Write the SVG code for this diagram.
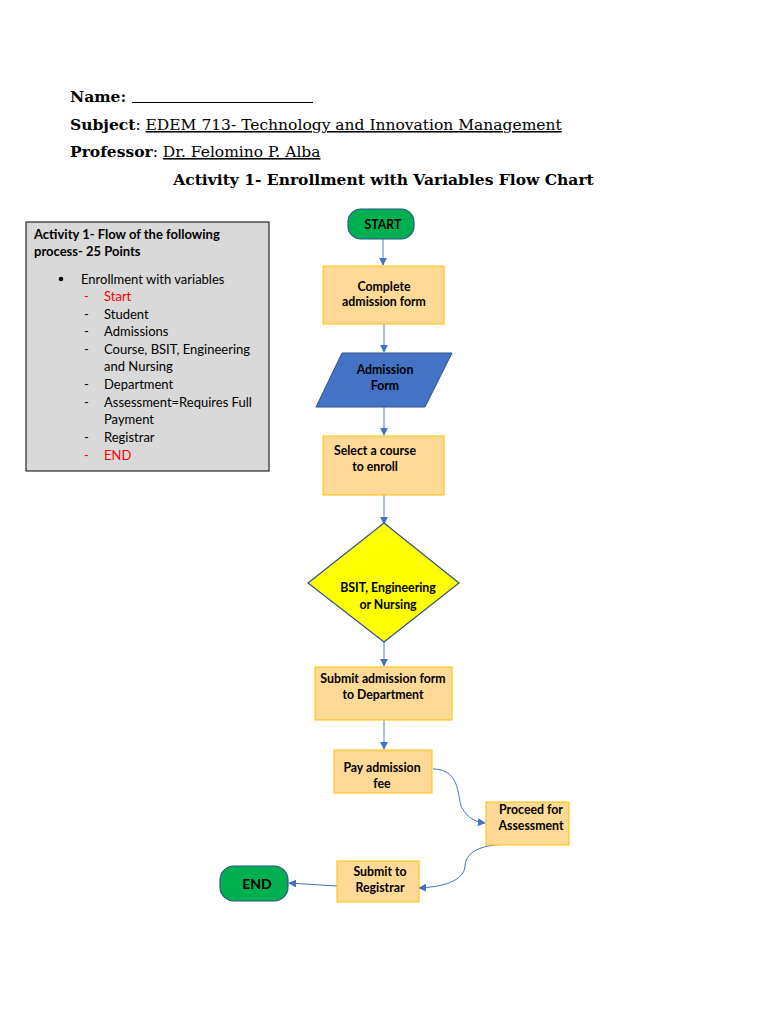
<svg xmlns="http://www.w3.org/2000/svg" width="768" height="1024" viewBox="0 0 768 1024">
<defs>
<style>
.hd{font-family:"DejaVu Serif",serif;font-size:15.5px;fill:#000}
.b{font-weight:bold}
.ul{text-decoration:underline}
.lt{font-family:Lato,"Open Sans",sans-serif;font-size:13px;fill:#000}
.red{fill:#ff0000}
.nt{font-family:Lato,"Open Sans",sans-serif;font-size:12.3px;font-weight:bold;fill:#000;text-anchor:middle}
.proc{fill:#ffd996;stroke:#ffc000;stroke-width:1}
.term{fill:#00b050;stroke:#2f528f;stroke-width:1.2}
.conn{fill:none;stroke:#8eaadb;stroke-width:1.5}
.curve{fill:none;stroke:#4472c4;stroke-width:1}
</style>
<marker id="ah" viewBox="0 0 10 10" refX="9" refY="5" markerWidth="8" markerHeight="8" markerUnits="userSpaceOnUse" orient="auto">
<path d="M0,0 L10,5 L0,10 z" fill="#4472c4"/>
</marker>
</defs>
<rect width="768" height="1024" fill="#fff"/>

<g id="header">
<text class="hd b" x="70" y="102">Name:</text>
<line x1="132" y1="102.5" x2="313" y2="102.5" stroke="#000" stroke-width="1"/>
<text class="hd" x="70" y="130"><tspan class="b">Subject</tspan>: <tspan class="ul">EDEM 713- Technology and Innovation Management</tspan></text>
<text class="hd" x="70" y="157"><tspan class="b">Professor</tspan>: <tspan class="ul">Dr. Felomino P. Alba</tspan></text>
<text class="hd b" x="383.5" y="185" text-anchor="middle">Activity 1- Enrollment with Variables Flow Chart</text>
</g>

<g id="notes">
<rect x="26" y="222" width="243" height="249" fill="#d9d9d9" stroke="#000" stroke-width="1"/>
<text class="lt b" x="34" y="239">Activity 1- Flow of the following</text>
<text class="lt b" x="34" y="256">process- 25 Points</text>
<circle cx="61" cy="279" r="2.3" fill="#000"/>
<text class="lt" x="81" y="284">Enrollment with variables</text>
<text class="lt red" x="84" y="301">-</text><text class="lt red" x="104" y="301">Start</text>
<text class="lt" x="84" y="319">-</text><text class="lt" x="104" y="319">Student</text>
<text class="lt" x="84" y="336">-</text><text class="lt" x="104" y="336">Admissions</text>
<text class="lt" x="84" y="354">-</text><text class="lt" x="104" y="354">Course, BSIT, Engineering</text>
<text class="lt" x="104" y="371">and Nursing</text>
<text class="lt" x="84" y="389">-</text><text class="lt" x="104" y="389">Department</text>
<text class="lt" x="84" y="407">-</text><text class="lt" x="104" y="407">Assessment=Requires Full</text>
<text class="lt" x="104" y="424">Payment</text>
<text class="lt" x="84" y="442">-</text><text class="lt" x="104" y="442">Registrar</text>
<text class="lt red" x="84" y="460">-</text><text class="lt red" x="104" y="460">END</text>
</g>

<g id="connectors">
<line class="conn" x1="383" y1="239" x2="383" y2="265" marker-end="url(#ah)"/>
<line class="conn" x1="384" y1="324" x2="384" y2="352" marker-end="url(#ah)"/>
<line class="conn" x1="384" y1="407" x2="384" y2="435" marker-end="url(#ah)"/>
<line class="conn" x1="384" y1="495" x2="384" y2="524" marker-end="url(#ah)"/>
<line class="conn" x1="384" y1="642" x2="384" y2="666" marker-end="url(#ah)"/>
<line class="conn" x1="384" y1="720" x2="384" y2="749" marker-end="url(#ah)"/>
<path class="curve" d="M433,769 C462,769 457,800 462,808 C468,818 475,822 485,823" marker-end="url(#ah)"/>
<path class="curve" d="M512,844 C480,844 466,852 465,866 C464,882 440,887 419,888" marker-end="url(#ah)"/>
<line class="curve" x1="337" y1="886" x2="289" y2="883" marker-end="url(#ah)"/>
</g>

<g id="start">
<rect class="term" x="348" y="209" width="66" height="30" rx="13"/>
<text class="nt" x="383" y="229">START</text>
</g>
<g id="complete-form">
<rect class="proc" x="323" y="266" width="121" height="58"/>
<text class="nt" x="384" y="291">Complete</text>
<text class="nt" x="384" y="306">admission form</text>
</g>
<g id="admission-form">
<polygon points="342,353 452,353 425,407 316,407" fill="#4472c4" stroke="#2f528f" stroke-width="1"/>
<text class="nt" x="385" y="374">Admission</text>
<text class="nt" x="385" y="390">Form</text>
</g>
<g id="select-course">
<rect class="proc" x="323" y="436" width="121" height="59"/>
<text class="nt" x="375" y="455">Select a course</text>
<text class="nt" x="375" y="471">to enroll</text>
</g>
<g id="decision">
<polygon points="384,523 459,583 384,642 308,583" fill="#ffff00" stroke="#2f528f" stroke-width="1.2"/>
<text class="nt" x="388" y="592">BSIT, Engineering</text>
<text class="nt" x="388" y="609">or Nursing</text>
</g>
<g id="submit-dept">
<rect class="proc" x="315" y="667" width="137" height="53"/>
<text class="nt" x="383" y="683">Submit admission form</text>
<text class="nt" x="383" y="699">to Department</text>
</g>
<g id="pay-fee">
<rect class="proc" x="334" y="750" width="98" height="43"/>
<text class="nt" x="382" y="772">Pay admission</text>
<text class="nt" x="382" y="788">fee</text>
</g>
<g id="assessment">
<rect class="proc" x="486" y="802" width="83" height="43"/>
<text class="nt" x="531" y="814">Proceed for</text>
<text class="nt" x="531" y="830">Assessment</text>
</g>
<g id="registrar">
<rect class="proc" x="337" y="861" width="82" height="41"/>
<text class="nt" x="380" y="876">Submit to</text>
<text class="nt" x="380" y="892">Registrar</text>
</g>
<g id="end">
<rect class="term" x="220" y="866" width="68" height="35" rx="14"/>
<text class="nt" x="257" y="889" style="font-size:14px">END</text>
</g>
</svg>
